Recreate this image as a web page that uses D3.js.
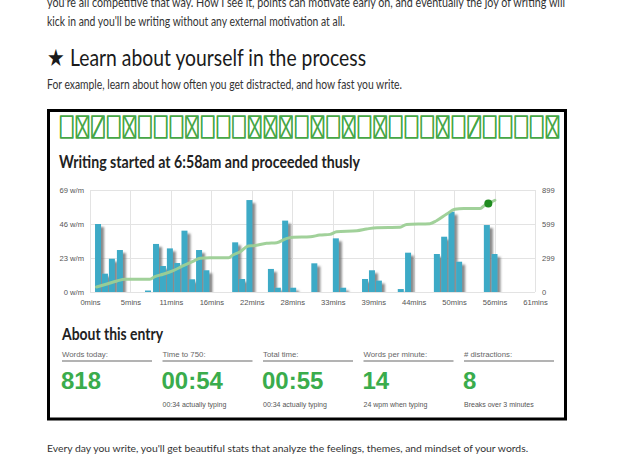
<!DOCTYPE html>
<html><head><meta charset="utf-8">
<script src="https://cdn.jsdelivr.net/npm/d3@7"></script>
<style>
html,body{margin:0;padding:0;background:#fff;overflow:hidden;}
svg{display:block;}
</style></head>
<body>
<svg id="c" width="620" height="465"></svg>
<script>
// ---- data ----
const pageLines = [
  "you're all competitive that way. How I see it, points can motivate early on, and eventually the joy of writing will",
  "kick in and you'll be writing without any external motivation at all."
];
const heading = "★ Learn about yourself in the process";
const intro = "For example, learn about how often you get distracted, and how fast you write.";
const outro = "Every day you write, you'll get beautiful stats that analyze the feelings, themes, and mindset of your words.";
const tofuRow = "⎕⌧⍁⎕⌧⎕⎕⎕⌧⎕⎕⎕⌧⌧⌧⎕⌧⎕⌧⎕⌧⎕⎕⎕⌧⎕⍁⎕⎕⎕⎕⌧";
const chartTitle = "Writing started at 6:58am and proceeded thusly";

const xTickLabels = ["0mins","5mins","11mins","16mins","22mins","28mins","33mins","39mins","44mins","50mins","56mins","61mins"];
const xMax = 61;
const leftTickValues = [0, 23, 46, 69];
const leftTickLabels = ["0 w/m","23 w/m","46 w/m","69 w/m"];
const rightTickValues = [0, 299, 599, 899];

const barMinutes = [1.1,2.05,3.0,4.1,7.95,9.05,10.0,10.95,11.95,12.95,14.0,14.95,15.95,19.9,20.85,21.85,24.8,25.75,26.75,27.85,30.75,33.7,34.7,37.7,38.65,39.6,42.6,43.6,47.55,48.55,49.55,50.6,54.4,55.45];
const barWpm = [46,12.4,22.5,28.4,1,32.5,17.6,29.5,19.6,41.5,8.6,28.4,14.7,33.6,8.8,62.2,15.6,2.9,48.3,2.9,19.4,36.3,2.9,8.8,14.7,7.7,2,26.6,25.7,37.4,54.3,20.5,45.3,25.7];

const lineMinutes = [0.9,2.2,3.7,4.8,8.2,8.9,10.0,11.4,12.8,14.2,15.1,16.4,19.0,19.6,20.6,21.7,22.4,24.2,25.6,27.0,27.9,30.2,31.5,32.9,33.8,36.6,37.9,39.3,42.5,43.4,46.6,47.5,48.9,50.0,51.2,53.5,54.1,54.6,55.5];
const lineWords = [44,68,97,112,112,135,156,188,232,273,297,302,302,326,355,405,408,429,435,473,482,487,502,508,531,540,555,567,570,596,602,628,687,729,737,737,765,780,809];
const markerMinute = 54.6, markerWords = 780;

const statLabels = ["Words today:","Time to 750:","Total time:","Words per minute:","# distractions:"];
const statValues = ["818","00:54","00:55","14","8"];
const statNotes = ["","00:34 actually typing","00:34 actually typing","24 wpm when typing","Breaks over 3 minutes"];

// ---- drawing ----
const svg = d3.select("#c");
const bodyFont = "Lato, 'Open Sans', sans-serif";
const sans = "'Liberation Sans', Arial, sans-serif";

function fitText(sel, len){ sel.attr("textLength", len).attr("lengthAdjust", "spacingAndGlyphs"); return sel; }
function fitWidth(sel, target){
  const fs = +sel.attr("font-size");
  const w = sel.node().getComputedTextLength();
  if (w > 0) sel.attr("font-size", (fs * target / w).toFixed(2));
  return sel;
}

fitText(svg.append("text").attr("x",47).attr("y",7).attr("font-family",bodyFont).attr("font-size",12.5).attr("fill","#333").text(pageLines[0]), 518);
fitText(svg.append("text").attr("x",47).attr("y",26).attr("font-family",bodyFont).attr("font-size",12.5).attr("fill","#333").text(pageLines[1]), 298);
fitText(svg.append("text").attr("x",47).attr("y",66).attr("font-family",bodyFont).attr("font-size",23.5).attr("fill","#1a1a1a").text(heading), 319);
fitText(svg.append("text").attr("x",47).attr("y",89).attr("font-family",bodyFont).attr("font-size",12.5).attr("fill","#333").text(intro), 355);
fitWidth(svg.append("text").attr("x",47).attr("y",452).attr("font-family",bodyFont).attr("font-size",12.5).attr("fill","#333").text(outro), 481);

// box
svg.append("rect").attr("x",48.5).attr("y",110.5).attr("width",517).attr("height",308.5)
  .attr("fill","#fff").attr("stroke","#000").attr("stroke-width",3);

// tofu row: the crossed boxes are drawn as a rising-slash quad overlaid by a falling-slash quad
const chars = Array.from(tofuRow);
const layerA = chars.map(c => c === "⌧" ? "⍁" : c).join("");
const layerB = chars.map(c => c === "⌧" ? "⍂" : c).join("");
const tofuG = svg.append("g").attr("transform","translate(60,136) scale(1,1.12)");
[layerA, layerB].forEach(s => {
  tofuG.append("text").attr("x",0).attr("y",0).attr("font-family","'DejaVu Sans Mono', 'DejaVu Sans', monospace")
    .attr("font-size",22).attr("fill","#46a646").attr("textLength",499).attr("lengthAdjust","spacing").text(s);
});

// chart title
fitText(svg.append("text").attr("x",59).attr("y",168).attr("font-family",bodyFont).attr("font-weight","bold")
  .attr("font-size",16.5).attr("fill","#222").text(chartTitle), 301);

// scales
const x = d3.scaleLinear().domain([0, xMax]).range([90, 535]);
const yL = d3.scaleLinear().domain([0, 69]).range([292, 190]);
const yR = d3.scaleLinear().domain([0, 899]).range([292, 190]);
const xTickVals = xTickLabels.map((d,i) => i * xMax / (xTickLabels.length - 1));

// grid
const grid = svg.append("g").attr("stroke","#e3e3e3").attr("stroke-width",1);
grid.selectAll("line.v").data(xTickVals).join("line").attr("class","v")
  .attr("x1", d => Math.round(x(d)) + 0.5).attr("x2", d => Math.round(x(d)) + 0.5)
  .attr("y1", yL(69)).attr("y2", yL(0));
grid.selectAll("line.h").data(leftTickValues).join("line").attr("class","h")
  .attr("x1", x(0)).attr("x2", x(xMax))
  .attr("y1", d => Math.round(yL(d)) + 0.5).attr("y2", d => Math.round(yL(d)) + 0.5);

// axes
const axFont = sans;
const xAxis = d3.axisBottom(x).tickValues(xTickVals).tickFormat((d,i) => xTickLabels[i]).tickSize(0).tickPadding(8);
const gx = svg.append("g").attr("transform", `translate(0,${yL(0)})`).call(xAxis);
gx.select(".domain").remove();
gx.selectAll("text").attr("font-family",axFont).attr("font-size",7.6).attr("fill","#555");

const gl = svg.append("g").attr("transform", `translate(${x(0)},0)`)
  .call(d3.axisLeft(yL).tickValues(leftTickValues).tickFormat((d,i) => leftTickLabels[i]).tickSize(0).tickPadding(6));
gl.select(".domain").remove();
gl.selectAll("text").attr("font-family",axFont).attr("font-size",7.6).attr("fill","#555");

const gr = svg.append("g").attr("transform", `translate(${x(xMax)},0)`)
  .call(d3.axisRight(yR).tickValues(rightTickValues).tickSize(0).tickPadding(7));
gr.select(".domain").remove();
gr.selectAll("text").attr("font-family",axFont).attr("font-size",7.6).attr("fill","#555");

// shadow filter & clip
const defs = svg.append("defs");
const f = defs.append("filter").attr("id","sh").attr("x","-50%").attr("y","-10%").attr("width","250%").attr("height","130%");
f.append("feGaussianBlur").attr("in","SourceAlpha").attr("stdDeviation",1.3).attr("result","b");
f.append("feOffset").attr("in","b").attr("dx",3).attr("dy",3).attr("result","o");
f.append("feFlood").attr("flood-color","#6d6d6d").attr("flood-opacity",0.8).attr("result","fl");
f.append("feComposite").attr("in","fl").attr("in2","o").attr("operator","in").attr("result","s");
const m = f.append("feMerge"); m.append("feMergeNode").attr("in","s"); m.append("feMergeNode").attr("in","SourceGraphic");
defs.append("clipPath").attr("id","plotclip").append("rect").attr("x",x(0)).attr("y",yL(69)).attr("width",x(xMax)-x(0)+10).attr("height",yL(0)-yL(69));

const bars = barMinutes.map((mn,i) => ({m: mn, v: barWpm[i]}));
const barW = 6;
svg.append("g").attr("clip-path","url(#plotclip)").append("g").attr("filter","url(#sh)")
  .selectAll("rect").data(bars).join("rect")
  .attr("x", d => x(d.m) - barW/2).attr("width", barW)
  .attr("y", d => yL(d.v)).attr("height", d => yL(0) - yL(d.v))
  .attr("fill","#3eaac6");

// cumulative line
const pts = lineMinutes.map((mn,i) => [mn, lineWords[i]]);
const line = d3.line().x(d => x(d[0])).y(d => yR(d[1])).curve(d3.curveMonotoneX);
svg.append("path").attr("d", line(pts)).attr("fill","none")
  .attr("stroke","#9ccf95").attr("stroke-width",3).attr("stroke-linecap","round").attr("opacity",0.95);
svg.append("circle").attr("cx", x(markerMinute)).attr("cy", yR(markerWords)).attr("r",4).attr("fill","#1f8c1f");

// About this entry
fitText(svg.append("text").attr("x",62).attr("y",340).attr("font-family",bodyFont).attr("font-weight","bold")
  .attr("font-size",17).attr("fill","#222").text("About this entry"), 101);

const cols = svg.append("g").selectAll("g").data(statLabels).join("g")
  .attr("transform", (d,i) => `translate(${62 + i*100.5},0)`);
cols.append("text").attr("x",0).attr("y",357).attr("font-family",sans).attr("font-size",7.8).attr("fill","#666").text(d => d);
cols.append("line").attr("x1",0).attr("x2",90).attr("y1",361).attr("y2",361).attr("stroke","#9a9a9a").attr("stroke-width",1.3);
cols.append("text").attr("x",-1).attr("y",389).attr("font-family",sans).attr("font-weight","bold")
  .attr("font-size",24).attr("fill","#3aac4c").text((d,i) => statValues[i]);
cols.append("text").attr("x",0).attr("y",407).attr("font-family",sans).attr("font-size",7).attr("fill","#555").text((d,i) => statNotes[i]);
</script>
</body></html>
